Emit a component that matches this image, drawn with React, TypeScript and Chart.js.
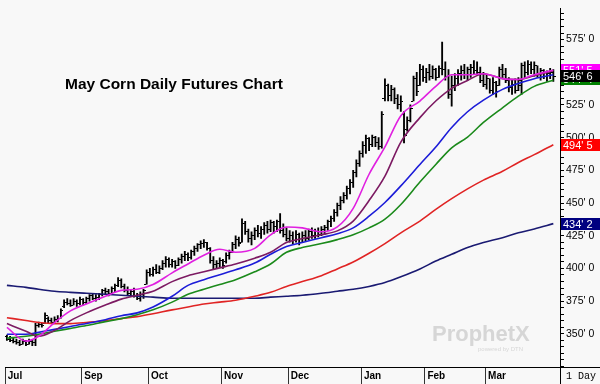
import React, { useEffect, useRef } from "react";
import { Chart, registerables } from "chart.js";
Chart.register(...registerables);

const titleText = "May Corn Daily Futures Chart";
const monthLabels = ["Jul", "Sep", "Oct", "Nov", "Dec", "Jan", "Feb", "Mar"];
const monthStarts = [-0.6, 23.5, 44.5, 67.5, 88.5, 111.5, 131.5, 150.6];

const highs = [
  349,348,347,346,345,346,345,346,345,358,
  359,358,366,363,362,363,364,369,376,377,
  376,377,376,378,377,378,380,381,380,381,
  384,385,384,386,388,393,392,388,386,384,
  385,381,382,384,399,400,401,403,402,406,
  409,408,407,406,408,411,413,412,414,417,
  419,421,422,420,416,409,406,408,407,412,
  414,420,425,424,438,436,430,428,431,433,
  432,435,436,437,436,437,442,434,431,429,
  428,429,427,428,429,430,431,430,431,432,
  433,437,440,445,450,455,458,463,468,475,
  483,490,497,502,500,502,501,500,520,545,
  541,540,538,533,532,520,516,525,547,550,
  556,555,553,556,555,553,555,573,558,552,
  547,549,552,555,556,554,556,559,558,554,
  550,548,545,546,543,554,556,553,546,544,
  545,546,557,558,559,558,558,555,553,552,
  551,553,552,
];
const lows = [
  345,344,343,342,341,342,341,342,341,341,
  355,355,358,358,358,359,359,362,370,372,
  371,372,371,372,372,373,375,376,375,376,
  379,380,379,380,382,386,385,382,380,379,
  378,376,375,377,388,394,394,396,396,399,
  401,401,401,400,402,404,406,406,407,410,
  413,415,416,414,404,399,400,401,400,404,
  407,412,415,417,420,426,420,418,422,424,
  423,426,427,428,427,428,427,424,421,420,
  419,420,418,420,421,422,423,423,424,425,
  426,429,432,436,440,445,450,453,457,462,
  470,478,485,488,490,493,493,491,492,528,
  528,528,526,522,520,496,505,512,528,532,
  540,543,542,544,545,544,546,548,544,530,
  524,536,540,544,545,544,546,549,549,542,
  539,537,534,533,531,540,545,542,535,533,
  534,536,533,545,548,549,547,546,544,545,
  543,545,543,
];
const opens = [
  348,346,345,344,343,342,344,342,344,343,
  356,357,358,362,360,359,361,362,371,374,
  373,372,375,373,376,374,377,379,377,378,
  380,383,382,381,385,387,391,386,383,381,
  382,379,377,380,388,397,395,399,397,400,
  404,407,403,405,402,407,409,411,408,413,
  415,418,419,420,415,406,403,404,406,405,
  410,412,418,422,420,434,428,423,425,429,
  427,430,433,430,435,432,436,429,426,423,
  425,421,426,420,425,423,428,425,428,426,
  430,431,436,438,443,448,452,456,461,466,
  473,480,488,494,499,495,500,496,493,530,
  540,532,537,530,525,518,506,513,528,545,
  540,552,546,550,547,552,546,553,552,547,
  533,540,545,549,551,548,552,554,551,550,
  544,541,545,536,542,540,552,548,544,538,
  541,536,540,555,550,556,552,555,549,551,
  547,549,550,
];
const closes = [
  346,345,344,343,342,345,342,345,343,356,
  357,356,364,360,359,361,362,368,374,373,
  372,375,373,376,374,377,379,377,378,380,
  383,382,381,385,387,391,386,383,381,382,
  379,377,380,383,397,395,399,397,400,404,
  407,403,405,402,407,409,411,408,413,415,
  418,419,420,415,406,403,404,406,402,410,
  412,418,422,419,434,428,423,425,429,427,
  430,433,430,435,432,436,429,426,423,425,
  421,426,420,425,423,428,425,428,426,430,
  431,436,438,443,448,452,456,461,466,473,
  480,488,494,499,495,500,496,493,518,540,
  532,537,530,525,528,502,513,522,545,535,
  552,546,550,547,552,546,553,552,547,533,
  540,545,549,551,548,552,554,551,550,544,
  541,545,536,542,535,552,548,544,538,541,
  536,544,555,550,556,552,555,549,551,547,
  549,550,546.75,
];

const maIndex = [0,6,10,15,20,25,31,36,41,46,52,57,62,67,72,78,83,88,93,99,104,109,114,119,124,130,135,140,145,150,156,161,166,172];
const maMagenta = [354.9,344.4,348.1,358.6,367.5,372.8,378.7,383.2,384.0,387.7,396.6,403.4,410.1,414.6,412.3,415.3,425.7,431.7,431.0,428.0,431.7,445.9,472.0,492.9,516.8,528.0,539.2,548.1,548.1,548.9,545.1,544.4,548.1,551.6];
const maPurple = [357.8,351.9,348.1,352.6,360.1,366.0,372.0,376.5,379.5,382.5,389.9,394.4,397.4,400.4,403.4,407.8,412.3,419.8,422.8,425.7,428.7,436.2,451.9,470.5,496.6,515.3,528.0,537.7,543.7,548.9,545.1,544.4,547.4,551.1];
const maBlue = [349.6,349.6,351.1,353.4,355.6,357.8,360.8,363.8,366.0,370.5,378.7,387.0,391.4,395.1,398.9,404.1,410.8,416.8,419.8,423.5,426.5,431.0,439.9,450.4,463.1,479.5,492.9,507.8,519.8,528.7,536.9,541.4,545.1,548.1];
const maGreen = [346.6,348.1,349.6,351.9,354.1,356.3,359.3,361.6,364.6,368.3,374.2,380.2,384.0,387.7,391.4,397.4,403.4,412.3,416.0,419.0,422.0,425.7,431.0,437.7,448.9,466.0,479.5,492.2,500.4,511.6,522.8,531.7,539.2,543.9];
const maRed = [362.3,360.1,358.6,357.8,357.8,358.6,360.1,361.6,363.1,365.3,368.3,370.5,372.8,374.2,375.7,378.7,381.7,386.2,389.9,394.4,399.6,404.9,411.6,419.0,427.2,436.2,445.1,453.3,460.8,467.5,474.3,481.0,487.0,494.6];
const maNavy = [387.0,385.5,384.0,382.5,381.7,381.0,380.2,379.5,378.7,378.0,377.2,377.2,377.2,377.2,377.2,377.2,378.0,378.7,379.5,381.0,382.5,384.0,386.2,389.2,393.6,399.6,405.6,410.8,416.0,419.8,423.5,427.2,430.2,434.25];

const lastValues = [551.625, 544.5, 546.75, 494.625, 434.25];
const lastTexts = ["551' 5", "544' 4", "546' 6", "494' 5", "434' 2"];
const lastColors = ["#ff00ff", "#008000", "#000000", "#ff0000", "#000080"];

const yMin = 324.6;
const yMax = 598.9;
const yFirstLabel = 350;
const yTickValues: number[] = [];
for (let v = 325; v <= 595; v += 5) yTickValues.push(v);

function makeTick(side: "left" | "right") {
  const c = document.createElement("canvas");
  c.width = 5;
  c.height = 1;
  const g = c.getContext("2d")!;
  g.fillStyle = "#000";
  if (side === "left") g.fillRect(0, 0, 2, 1);
  else g.fillRect(3, 0, 2, 1);
  return c;
}

const bgPlugin = {
  id: "bg",
  beforeDraw(chart: any) {
    const ctx = chart.ctx;
    ctx.save();
    ctx.fillStyle = "#f8f8f8";
    ctx.fillRect(0, 0, chart.width, chart.height);
    ctx.restore();
  },
};

const overlayPlugin = {
  id: "overlay",
  beforeDatasetsDraw(chart: any) {
    const ctx = chart.ctx;
    ctx.save();
    ctx.fillStyle = "#000";
    ctx.font = 'bold 15.5px "Liberation Sans", Arial, sans-serif';
    ctx.textBaseline = "middle";
    ctx.textAlign = "left";
    ctx.fillText(titleText, 65, 85);
    ctx.fillStyle = "#d6d6d6";
    ctx.font = 'bold 22px "Liberation Sans", Arial, sans-serif';
    ctx.textBaseline = "alphabetic";
    ctx.fillText("ProphetX", 432, 341);
    ctx.font = '6px "Liberation Sans", Arial, sans-serif';
    ctx.fillText("powered by DTN", 478, 351);
    ctx.restore();
  },
  afterDraw(chart: any) {
    const ctx = chart.ctx;
    const ys = chart.scales.y;
    const area = chart.chartArea;
    ctx.save();
    ctx.strokeStyle = "#000";
    ctx.lineWidth = 1;
    ctx.beginPath();
    ctx.moveTo(area.right + 0.5, area.bottom);
    ctx.lineTo(area.right + 0.5, chart.height);
    ctx.moveTo(area.right, area.bottom + 0.5);
    ctx.lineTo(chart.width, area.bottom + 0.5);
    ctx.stroke();
    ctx.fillStyle = "#000";
    ctx.font = '10px "Liberation Mono", monospace';
    ctx.textBaseline = "middle";
    ctx.textAlign = "left";
    ctx.fillText("1 Day", 566, 376);
    ctx.font = '11px "Liberation Sans", Arial, sans-serif';
    for (let k = 0; k < lastValues.length; k++) {
      const y = ys.getPixelForValue(lastValues[k]);
      ctx.fillStyle = lastColors[k];
      ctx.fillRect(area.right + 1, Math.round(y) - 6, chart.width - area.right - 1, 12);
      ctx.fillStyle = "#fff";
      ctx.fillText(lastTexts[k], area.right + 3, Math.round(y) + 0.5);
    }
    ctx.restore();
  },
};

export default function App() {
  const ref = useRef<HTMLCanvasElement>(null);
  useEffect(() => {
    const barData = highs.map((h, i) => ({ x: i, y: [lows[i], h] }));
    const openData = opens.map((v, i) => ({ x: i, y: v }));
    const closeData = closes.map((v, i) => ({ x: i, y: v }));
    const ma = (vals: number[]) => maIndex.map((x, k) => ({ x, y: vals[k] }));
    const line = (vals: number[], color: string, order: number, width = 1.6) => ({
      type: "line" as const,
      data: ma(vals),
      borderColor: color,
      borderWidth: width,
      pointRadius: 0,
      fill: false,
      cubicInterpolationMode: "monotone" as const,
      order,
    });
    const chart = new Chart(ref.current!, {
      type: "bar",
      data: {
        datasets: [
          line(maMagenta, "#e020e0", 0),
          line(maPurple, "#7c1a62", 1),
          line(maBlue, "#1c1cd8", 2),
          line(maGreen, "#1b8a1b", 3),
          line(maRed, "#e02424", 4),
          line(maNavy, "#1a1a72", 5),
          {
            type: "bar",
            data: barData as any,
            backgroundColor: "#000",
            borderWidth: 0,
            barThickness: 1.2,
            order: 10,
          },
          {
            type: "scatter",
            data: openData,
            pointStyle: makeTick("left") as any,
            pointRadius: 2,
            order: 10,
          },
          {
            type: "scatter",
            data: closeData,
            pointStyle: makeTick("right") as any,
            pointRadius: 2,
            order: 10,
          },
        ] as any,
      },
      options: {
        responsive: false,
        devicePixelRatio: 1,
        animation: false,
        layout: { padding: 0 },
        plugins: { legend: { display: false }, tooltip: { enabled: false } },
        scales: {
          x: {
            type: "linear",
            min: -0.6,
            max: 174.1,
            offset: false,
            afterBuildTicks: (s: any) => {
              s.ticks = monthStarts.map((v) => ({ value: v }));
            },
            afterFit: (s: any) => {
              s.height = 17;
            },
            ticks: {
              autoSkip: false,
              maxRotation: 0,
              align: "start",
              padding: -14,
              color: "#000",
              font: { family: '"Liberation Sans", Arial, sans-serif', size: 10, weight: "bold" },
              callback: (_v: any, i: number) => " " + monthLabels[i],
            },
            grid: { drawOnChartArea: false, tickLength: 17, color: "#333", offset: false },
            border: { color: "#000" },
          },
          y: {
            type: "linear",
            position: "right",
            min: yMin,
            max: yMax,
            afterBuildTicks: (s: any) => {
              s.ticks = yTickValues.map((v) => ({ value: v }));
            },
            afterFit: (s: any) => {
              s.width = 40;
            },
            ticks: {
              autoSkip: false,
              padding: 2,
              color: "#000",
              font: { family: '"Liberation Sans", Arial, sans-serif', size: 10.5 },
              callback: (v: any) =>
                Number(v) % 25 === 0 && Number(v) >= yFirstLabel ? `${v}' 0` : "",
            },
            grid: { drawOnChartArea: false, tickLength: 4, color: "#000" },
            border: { color: "#000" },
          },
        },
      } as any,
      plugins: [bgPlugin, overlayPlugin],
    });
    return () => chart.destroy();
  }, []);
  return (
    <div style={{ position: "absolute", left: 0, top: 0, width: 600, height: 384 }}>
      <canvas ref={ref} width={600} height={384} style={{ display: "block" }} />
    </div>
  );
}
